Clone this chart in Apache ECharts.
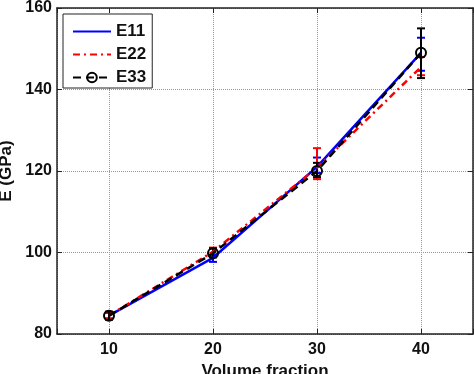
<!DOCTYPE html>
<html><head><meta charset="utf-8">
<script src="https://cdn.jsdelivr.net/npm/echarts@6/dist/echarts.min.js"></script>
<style>html,body{margin:0;padding:0;background:#fff}#c{width:474px;height:374px}</style>
</head><body><div id="c"></div>
<script>
const volumeFraction = [10, 20, 30, 40];
const e11 = [84.5, 98.7, 121.0, 149.0];
const e11Low = [83.8, 97.7, 119.5, 144.6];
const e11High = [85.2, 99.5, 123.3, 152.7];
const e22 = [84.5, 100.2, 120.8, 145.5];
const e22Low = [83.8, 99.0, 118.0, 143.5];
const e22High = [85.2, 101.2, 125.6, 148.0];
const e33 = [84.5, 99.8, 120.0, 149.0];
const e33Low = [83.5, 98.8, 118.5, 142.8];
const e33High = [85.5, 101.0, 122.0, 155.0];

const FONT = 'Liberation Sans';
const chart = echarts.init(document.getElementById('c'), null, {renderer: 'canvas'});

function pairs(vals) { return volumeFraction.map((x, i) => [x, vals[i]]); }
function errData(lo, hi) { return volumeFraction.map((x, i) => [x, lo[i], hi[i]]); }
function errSeries(name, lo, hi, color) {
  return {
    type: 'custom', name: name + ' err', data: errData(lo, hi),
    encode: {x: 0, y: [1, 2]}, silent: true, z: 3,
    renderItem: function (params, api) {
      const x = api.value(0), l = api.value(1), h = api.value(2);
      const p1 = api.coord([x, h]), p2 = api.coord([x, l]);
      const w = 4;
      const st = {stroke: color, lineWidth: 2};
      return {type: 'group', children: [
        {type: 'line', shape: {x1: p1[0], y1: p1[1], x2: p2[0], y2: p2[1]}, style: st},
        {type: 'line', shape: {x1: p1[0] - w, y1: p1[1], x2: p1[0] + w, y2: p1[1]}, style: st},
        {type: 'line', shape: {x1: p2[0] - w, y1: p2[1], x2: p2[0] + w, y2: p2[1]}, style: st}
      ]};
    }
  };
}

const axisLine = {show: true, lineStyle: {color: '#222', width: 1.5}};
const tick = {show: true, inside: true, length: 5, lineStyle: {color: '#222', width: 1}};
const labelStyle = {fontFamily: FONT, fontWeight: 'bold', fontSize: 16, color: '#111'};

chart.setOption({
  animation: false,
  backgroundColor: '#fff',
  grid: {left: 57, right: 1, top: 8, bottom: 40, containLabel: false, outerBoundsMode: 'none'},
  legend: {
    data: [
      {name: 'E11', itemStyle: {opacity: 0}},
      {name: 'E22', itemStyle: {opacity: 0}},
      {name: 'E33'}
    ],
    orient: 'vertical', left: 63, top: 14,
    itemWidth: 38, itemHeight: 12, itemGap: 6,
    padding: [9, 6, 2, 9],
    backgroundColor: '#fff', borderColor: '#222', borderWidth: 1,
    textStyle: {fontFamily: FONT, fontWeight: 'bold', fontSize: 17, color: '#111'}
  },
  xAxis: [{
    type: 'value', min: 5, max: 45, splitNumber: 4,
    name: 'Volume fraction', nameLocation: 'middle', nameGap: 23,
    nameTextStyle: {fontFamily: FONT, fontWeight: 'bold', fontSize: 17, color: '#111'},
    axisLine: axisLine, axisTick: tick,
    axisLabel: Object.assign({margin: 8, formatter: v => (v === 5 || v === 45) ? '' : String(v)}, labelStyle),
    splitLine: {show: true, lineStyle: {type: 'dotted', color: '#999', width: 1}}
  }, {
    type: 'value', min: 5, max: 45, splitNumber: 4, position: 'top',
    axisLine: axisLine, axisTick: tick, axisLabel: {show: false}, splitLine: {show: false}
  }],
  yAxis: [{
    type: 'value', min: 80, max: 160, interval: 20,
    name: 'E (GPa)', nameLocation: 'middle', nameGap: 40,
    nameTextStyle: {fontFamily: FONT, fontWeight: 'bold', fontSize: 17, color: '#111'},
    axisLine: axisLine, axisTick: tick,
    axisLabel: Object.assign({margin: 5}, labelStyle),
    splitLine: {show: true, lineStyle: {type: 'dotted', color: '#999', width: 1}}
  }, {
    type: 'value', min: 80, max: 160, interval: 20, position: 'right',
    axisLine: axisLine, axisTick: tick, axisLabel: {show: false}, splitLine: {show: false}
  }],
  series: [
    errSeries('E11', e11Low, e11High, '#0000ff'),
    {name: 'E11', type: 'line', data: pairs(e11), symbol: 'none', z: 4,
     lineStyle: {color: '#0000ff', width: 2.5, type: 'solid'}, itemStyle: {color: '#0000ff'}},
    errSeries('E22', e22Low, e22High, '#ff0000'),
    {name: 'E22', type: 'line', data: pairs(e22), symbol: 'none', z: 5,
     lineStyle: {color: '#ff0000', width: 2.5, type: [7, 4, 2, 4]}, itemStyle: {color: '#ff0000'}},
    errSeries('E33', e33Low, e33High, '#000000'),
    {name: 'E33', type: 'line', data: pairs(e33), symbol: 'circle', symbolSize: 10, z: 6,
     lineStyle: {color: '#000', width: 2.5, type: [8, 5]},
     itemStyle: {color: 'rgba(255,255,255,0)', borderColor: '#000', borderWidth: 2}}
  ]
});
</script></body></html>
